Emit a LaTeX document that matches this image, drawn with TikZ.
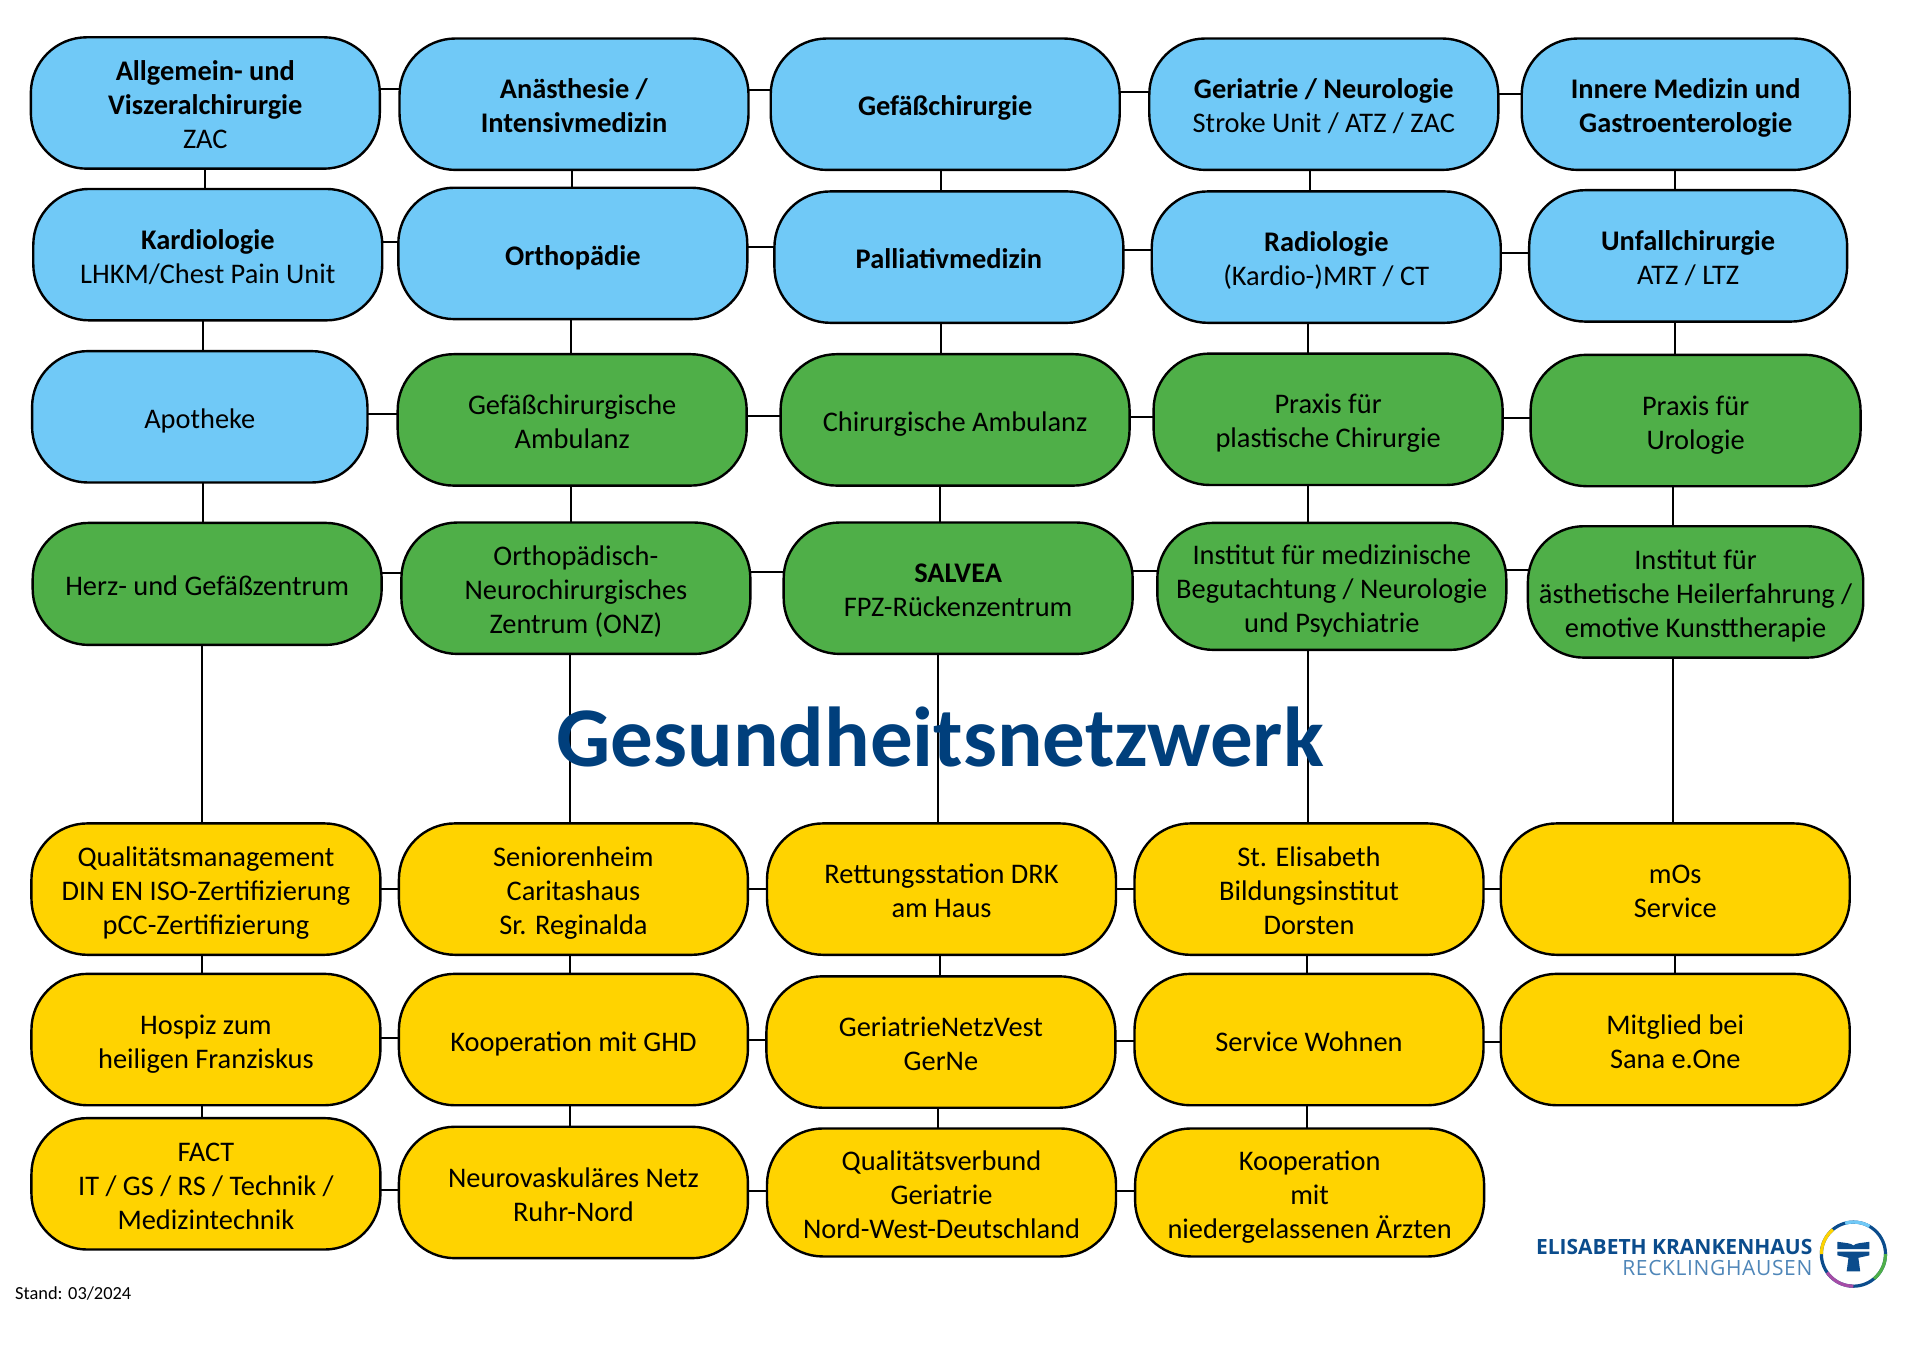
\documentclass[tikz,border=0pt]{standalone}
\usepackage{fontspec}
\setmainfont{Carlito}
\newfontfamily\logoboldfont{Open Sans}
\newfontfamily\logolightfont[LetterSpace=3]{Open Sans}
\usetikzlibrary{backgrounds}
\definecolor{netblue}{HTML}{70C9F7}
\definecolor{netgreen}{HTML}{4FAF48}
\definecolor{netyellow}{HTML}{FFD300}
\definecolor{netnavy}{HTML}{003F7C}
\definecolor{logoblue}{HTML}{0B4C8C}
\definecolor{logolight}{HTML}{4F86B8}

\begin{document}
\begin{tikzpicture}[x=0.61657pt,y=-0.61657pt]
\tikzset{pill/.style={draw=black,line width=1.2pt,rounded corners=28pt,align=center,inner sep=1pt,minimum width=174.5pt,minimum height=65.7pt,font=\fontsize{14.2}{17}\selectfont,text height=15.7pt,text depth=4pt}}
\tikzset{lines2/.style={text height=32.7pt}}
\tikzset{lines3/.style={text height=49.7pt}}
\tikzset{bluepill/.style={pill,fill=netblue}}
\tikzset{greenpill/.style={pill,fill=netgreen}}
\tikzset{yellowpill/.style={pill,fill=netyellow}}
\tikzset{link/.style={draw=black,line width=1pt}}
\useasboundingbox (0,0) rectangle (1557,1100.4);

\node[bluepill,lines3] (a1) at (166.5,83.5) {\textbf{Allgemein- und}\\\textbf{Viszeralchirurgie}\\ZAC};
\node[bluepill,lines2] (a2) at (465.5,84.5) {\textbf{Anästhesie /}\\\textbf{Intensivmedizin}};
\node[bluepill] (a3) at (766.5,84.5) {\textbf{Gefäßchirurgie}};
\node[bluepill,lines2] (a4) at (1073.5,84.5) {\textbf{Geriatrie / Neurologie}\\Stroke Unit / ATZ / ZAC};
\node[bluepill,lines2,minimum width=164pt] (a5) at (1367,84.5) {\textbf{Innere Medizin und}\\\textbf{Gastroenterologie}};

\node[bluepill,lines2] (b1) at (168.5,206.5) {\textbf{Kardiologie}\\LHKM/Chest Pain Unit};
\node[bluepill] (b2) at (464.5,205.5) {\textbf{Orthopädie}};
\node[bluepill] (b3) at (769.5,208.5) {\textbf{Palliativmedizin}};
\node[bluepill,lines2] (b4) at (1075.5,208.5) {\textbf{Radiologie}\\(Kardio-)MRT / CT};
\node[bluepill,lines2,minimum width=159pt] (b5) at (1369,207.5) {\textbf{Unfallchirurgie}\\ATZ / LTZ};

\node[bluepill,minimum width=167.7pt] (c1) at (162,338) {Apotheke};
\node[greenpill,lines2] (c2) at (464,340.5) {Gefäßchirurgische\\Ambulanz};
\node[greenpill] (c3) at (774.5,340.5) {Chirurgische Ambulanz};
\node[greenpill,lines2] (c4) at (1077,340) {Praxis für\\plastische Chirurgie};
\node[greenpill,lines2,minimum width=165pt] (c5) at (1375,341) {Praxis für\\Urologie};

\node[greenpill,minimum height=61pt] (d1) at (168,473.5) {Herz- und Gefäßzentrum};
\node[greenpill,lines3] (d2) at (467,477) {Orthopädisch-\\Neurochirurgisches\\Zentrum (ONZ)};
\node[greenpill,lines2] (d3) at (777,477) {\textbf{SALVEA}\\FPZ-Rückenzentrum};
\node[greenpill,lines3,minimum height=63.5pt] (d4) at (1080,475.5) {Institut für medizinische\\Begutachtung / Neurologie\\und Psychiatrie};
\node[greenpill,lines3,minimum width=167.7pt] (d5) at (1375,480) {Institut für\\ästhetische Heilerfahrung /\\emotive Kunsttherapie};

\node[yellowpill,lines3] (e1) at (167,721) {Qualitätsmanagement\\DIN EN ISO-Zertifizierung\\pCC-Zertifizierung};
\node[yellowpill,lines3] (e2) at (465,721) {Seniorenheim\\Caritashaus\\Sr. Reginalda};
\node[yellowpill,lines2] (e3) at (763.5,721) {Rettungsstation DRK\\am Haus};
\node[yellowpill,lines3] (e4) at (1061.5,721) {St. Elisabeth\\Bildungsinstitut\\Dorsten};
\node[yellowpill,lines2] (e5) at (1358.5,721) {mOs\\Service};

\node[yellowpill,lines2] (f1) at (167,843) {Hospiz zum\\heiligen Franziskus};
\node[yellowpill] (f2) at (465,843) {Kooperation mit GHD};
\node[yellowpill,lines2] (f3) at (763,845) {GeriatrieNetzVest\\GerNe};
\node[yellowpill] (f4) at (1061.5,843) {Service Wohnen};
\node[yellowpill,lines2] (f5) at (1358.5,843) {Mitglied bei\\Sana e.One};

\node[yellowpill,lines3] (g1) at (167,960) {FACT\\IT / GS / RS / Technik /\\Medizintechnik};
\node[yellowpill,lines2] (g2) at (465,967) {Neurovaskuläres Netz\\Ruhr-Nord};
\node[yellowpill,lines3,minimum height=64pt] (g3) at (763.5,967) {Qualitätsverbund\\Geriatrie\\Nord-West-Deutschland};
\node[yellowpill,lines3,minimum height=64pt] (g4) at (1062,967) {Kooperation\\mit\\niedergelassenen Ärzten};

\begin{scope}[on background layer]
\foreach \p/\q/\yy in {a1/a2/72,a2/a3/73,a3/a4/75,a4/a5/76,b1/b2/196,b2/b3/200,b3/b4/203,b4/b5/205,c1/c2/336,c2/c3/337,c3/c4/338,c4/c5/339,d1/d2/465,d2/d3/464,d3/d4/463,d4/d5/462,e1/e2/721,e2/e3/721,e3/e4/721,e4/e5/721,f1/f2/842,f2/f3/843,f3/f4/844,f4/f5/845,g1/g2/965,g2/g3/966,g3/g4/966}
  \draw[link] (\p |- 0,\yy) -- (\q |- 0,\yy);
\foreach \p/\q/\xx in {a1/b1/166,a2/b2/464,a3/b3/763,a4/b4/1062,a5/b5/1358,b1/c1/165,b2/c2/463,b3/c3/763,b4/c4/1061,b5/c5/1358,c1/d1/165,c2/d2/463,c3/d3/762,c4/d4/1061,c5/d5/1357,d1/e1/164,d2/e2/462,d3/e3/761,d4/e4/1061,d5/e5/1357,e1/f1/164,e2/f2/462,e3/f3/762,e4/f4/1060,e5/f5/1358,f1/g1/164,f2/g2/462,f3/g3/761,f4/g4/1060}
  \draw[link] (\xx,0 |- \p) -- (\xx,0 |- \q);
\end{scope}

\node[text=netnavy,font=\fontsize{42.5}{50}\selectfont\bfseries] (title) at (762.5,598) {Gesundheitsnetzwerk};
\node[anchor=west,inner sep=0pt,font=\fontsize{9.2}{11}\selectfont] (stand) at (12,1049) {Stand: 03/2024};

\node[anchor=east,inner sep=0pt,text=logoblue,font=\logoboldfont\fontsize{10.5}{12}\selectfont\bfseries] (logoa) at (1470,1011) {ELISABETH KRANKENHAUS};
\node[anchor=east,inner sep=0pt,text=logolight,font=\logolightfont\fontsize{10.5}{12}\selectfont] (logob) at (1470,1028) {RECKLINGHAUSEN};

\begin{scope}[shift={(1503,1017)},y=0.61657pt]
\draw[logoblue,line width=1.6pt] (0,0) circle (26);
\draw[netblue,line width=1.6pt] (60:26) arc[start angle=60,end angle=105,radius=26];
\draw[netgreen,line width=1.6pt] (-50:26) arc[start angle=-50,end angle=0,radius=26];
\draw[violet!70,line width=1.6pt] (-145:26) arc[start angle=-145,end angle=-90,radius=26];
\draw[netyellow,line width=1.6pt] (130:26) arc[start angle=130,end angle=180,radius=26];
\fill[logoblue] (-13,10) .. controls (-6,9) and (-2,9) .. (0,7) .. controls (2,9) and (6,9) .. (13,10) -- (13,4) -- (-13,4) -- cycle;
\fill[logoblue] (-13,2) -- (13,2) -- (13,-1) -- (4,-3) -- (5.5,-14) -- (-5.5,-14) -- (-4,-3) -- (-13,-1) -- cycle;
\end{scope}
\end{tikzpicture}
\end{document}
